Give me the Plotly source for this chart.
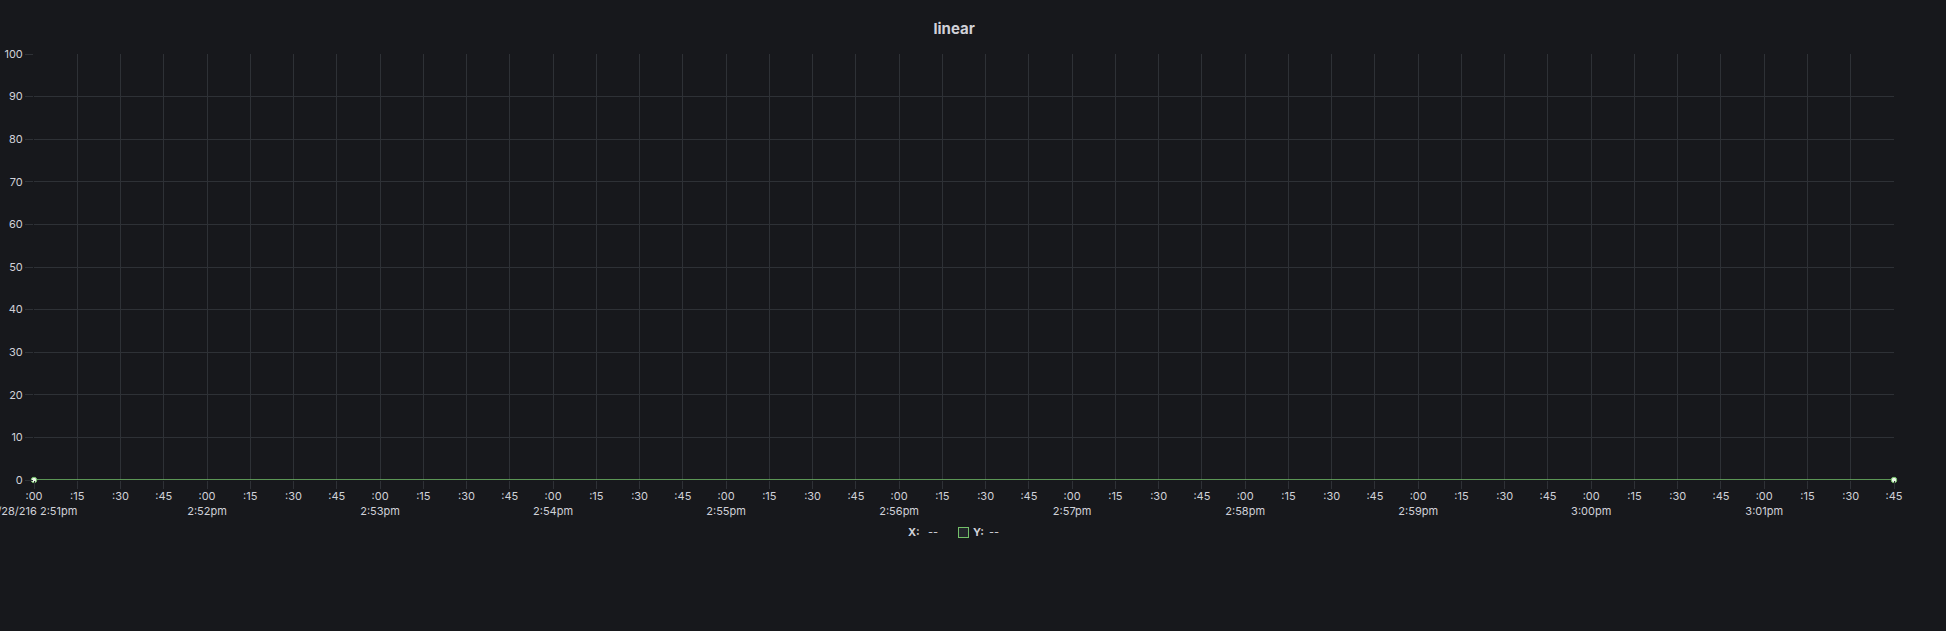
import plotly.graph_objects as go
import pandas as pd

# ---- data ----
times = ["2016-02-28 14:51:00", "2016-02-28 15:01:45"]
values = [0, 0]

y_ticks = [0, 10, 20, 30, 40, 50, 60, 70, 80, 90, 100]
sec_labels = [":00", ":15", ":30", ":45"]
minute_labels = ["2/28/216 2:51pm", "2:52pm", "2:53pm", "2:54pm", "2:55pm",
                 "2:56pm", "2:57pm", "2:58pm", "2:59pm", "3:00pm", "3:01pm"]

title_text = "linear"
legend_x = "X:"
legend_y = "Y:"
legend_val = "--"

# ---- build ticks ----
tick_times = pd.date_range(times[0], times[-1], freq="15s")
tickvals = list(tick_times)
ticktext = []
start = tick_times[0]
for t in tick_times:
    s = sec_labels[(t.second // 15) % 4]
    if t.second == 0:
        idx = int((t - start).total_seconds() // 60)
        s = s + "<br>" + minute_labels[idx]
    ticktext.append(s)

W, H = 1946, 631
L, R, T, B = 34, 52, 54, 151
BG = "#17181c"
GRID = "#2e3136"
TXT = "#d0d1d8"
GREEN = "#73bf69"
FONT = "Inter"

fig = go.Figure()
fig.add_trace(go.Scatter(
    x=times, y=values, mode="lines+markers",
    line=dict(color=GREEN, width=1.3),
    marker=dict(size=5.5, color="#eef8ea", line=dict(color=GREEN, width=1)),
    hoverinfo="skip", showlegend=False, cliponaxis=False,
))

pw = W - L - R
ph = H - T - B


def px2x(px):
    return (px - L) / pw


def px2y(py):
    return (H - B - py) / ph


ann = []
ly = px2y(532)
ann.append(dict(x=px2x(922), y=ly, xref="paper", yref="paper", text="<b>" + legend_x + "</b>",
                showarrow=False, xanchor="right", yanchor="middle",
                font=dict(family=FONT, size=11, color=TXT)))
ann.append(dict(x=px2x(926), y=ly, xref="paper", yref="paper", text=legend_val,
                showarrow=False, xanchor="left", yanchor="middle",
                font=dict(family=FONT, size=11, color=TXT)))
ann.append(dict(x=px2x(963), y=ly, xref="paper", yref="paper", text=" ",
                showarrow=False, xanchor="center", yanchor="middle",
                width=9, height=9, bordercolor=GREEN, borderwidth=1, borderpad=0,
                bgcolor="#22252b", font=dict(family=FONT, size=6, color=TXT)))
ann.append(dict(x=px2x(971), y=ly, xref="paper", yref="paper", text="<b>" + legend_y + "</b>",
                showarrow=False, xanchor="left", yanchor="middle",
                font=dict(family=FONT, size=11, color=TXT)))
ann.append(dict(x=px2x(987), y=ly, xref="paper", yref="paper", text=legend_val,
                showarrow=False, xanchor="left", yanchor="middle",
                font=dict(family=FONT, size=11, color=TXT)))

fig.update_layout(
    template="none",
    width=W, height=H,
    margin=dict(l=L, r=R, t=T, b=B, pad=0, autoexpand=False),
    paper_bgcolor=BG, plot_bgcolor=BG,
    title=dict(text="<b>" + title_text + "</b>", x=0.4903, xanchor="center",
               y=1 - 29 / H, yanchor="middle", yref="container",
               font=dict(family=FONT, size=15, color=TXT)),
    font=dict(family=FONT, size=11, color=TXT),
    annotations=ann,
    xaxis=dict(
        type="date", range=[times[0], times[-1]],
        tickvals=tickvals, ticktext=ticktext, tickangle=0,
        ticks="outside", ticklen=8, tickcolor=GRID, tickwidth=1,
        showgrid=True, gridcolor=GRID, gridwidth=1,
        zeroline=False, showline=False, automargin=False,
        ticklabeloverflow="allow", ticklabelstandoff=-2,
        tickfont=dict(family=FONT, size=11, color=TXT),
    ),
    yaxis=dict(
        range=[0, 100], tickvals=y_ticks,
        ticks="outside", ticklen=8, tickcolor=GRID, tickwidth=1,
        showgrid=True, gridcolor=GRID, gridwidth=1,
        zeroline=False, showline=False, automargin=False,
        tickfont=dict(family=FONT, size=11, color=TXT),
    ),
)

fig.write_html("out.html", config={"displayModeBar": False},
               post_script="document.body.style.margin='0';document.body.style.background='%s';" % BG)
